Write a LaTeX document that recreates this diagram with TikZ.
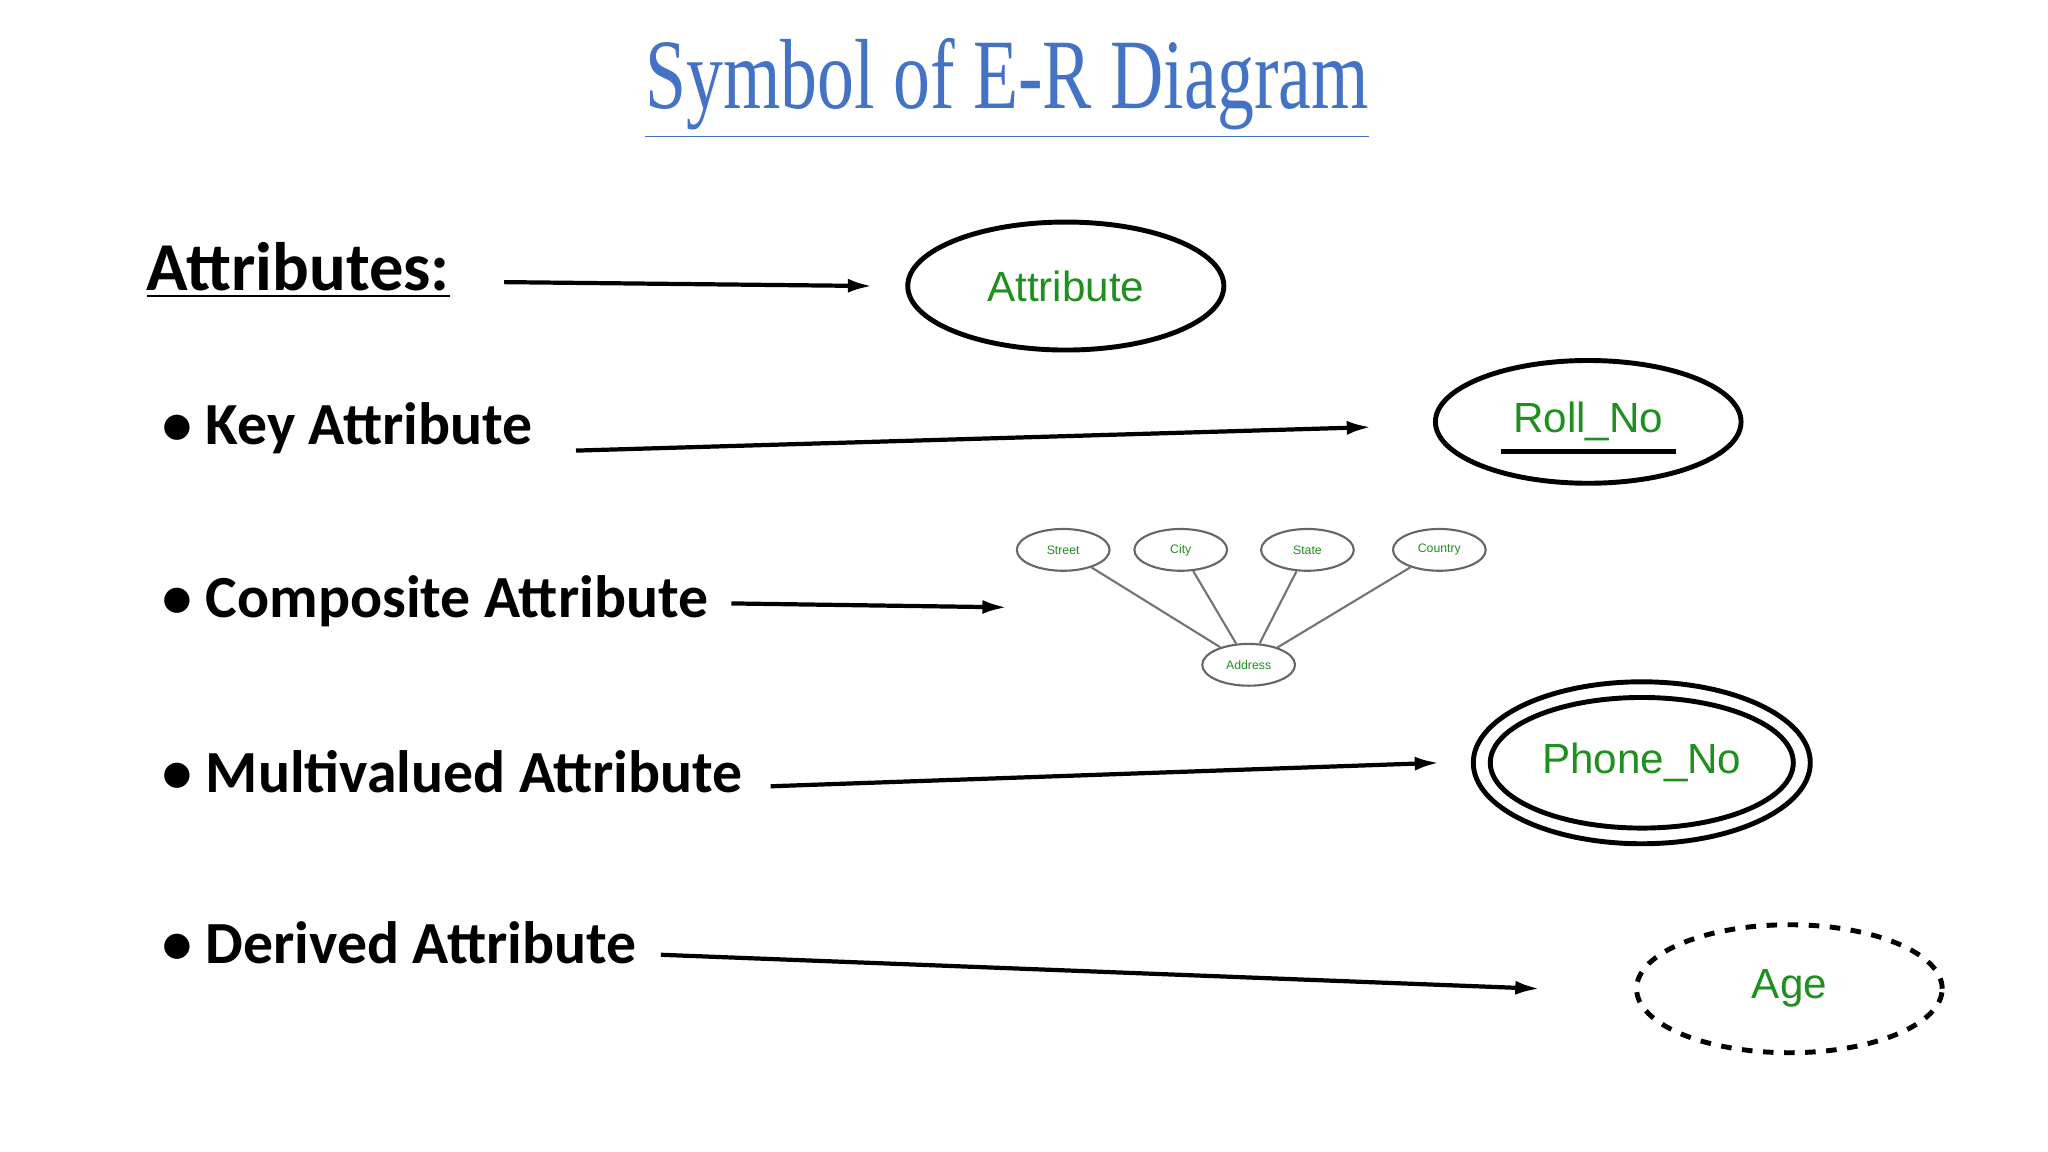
\documentclass[tikz,border=0pt]{standalone}
\usepackage{fontspec}
\setmainfont{Carlito}
\newfontfamily\arial{Liberation Sans}
\newfontfamily\titlefont{Liberation Serif}
\usetikzlibrary{arrows.meta,shapes.geometric}
\definecolor{ttl}{HTML}{4472C4}
\definecolor{grn}{HTML}{1F8F1F}
\tikzset{
 arr/.style={-{Latex[length=7pt,width=4pt]},line width=1.2pt},
 ell/.style={draw,ellipse,inner sep=0pt,line width=1.4pt,text=grn,font=\arial\fontsize{12}{12}\selectfont},
 sml/.style={draw=black!60,ellipse,line width=0.6pt,minimum width=71\u,minimum height=32\u,inner sep=0pt,text=grn,font=\arial\fontsize{3.5}{3.5}\selectfont},
 lbl/.style={anchor=west,font=\bfseries\fontsize{17}{17}\selectfont},
 cl/.style={draw=black!55,line width=0.6pt}
}
\def\u{*0.01306cm}
\begin{document}
\begin{tikzpicture}[x=0.01306cm,y=-0.01306cm]
\useasboundingbox (0,0) rectangle (1568,882);
\node[text=ttl,font=\titlefont\fontsize{21}{21}\selectfont] (title) at (771,68) {\scalebox{1}[1.35]{\underline{Symbol of E-R Diagram}}};
\node[lbl,font=\bfseries\fontsize{19.5}{19.5}\selectfont] (attrs) at (103,207) {\underline{Attributes:}};
\node[lbl] (key) at (115,328) {\textbullet\ Key Attribute};
\node[lbl] (comp) at (115,460) {\textbullet\ Composite Attribute};
\node[lbl] (multi) at (115,591) {\textbullet\ Multivalued Attribute};
\node[lbl] (der) at (115,722) {\textbullet\ Derived Attribute};
\coordinate (a1s) at (386,216); \coordinate (a1e) at (668,219);
\coordinate (a2s) at (441,345); \coordinate (a2e) at (1050,327);
\coordinate (a3s) at (560,462); \coordinate (a3e) at (771,465);
\coordinate (a4s) at (590,602); \coordinate (a4e) at (1102,584);
\coordinate (a5s) at (506,731); \coordinate (a5e) at (1179,757);
\draw[arr] (a1s) -- (a1e);
\draw[arr] (a2s) -- (a2e);
\draw[arr] (a3s) -- (a3e);
\draw[arr] (a4s) -- (a4e);
\draw[arr] (a5s) -- (a5e);
\node[ell,minimum width=242\u,minimum height=98\u] (attr) at (816,219) {Attribute};
\node[ell,minimum width=234\u,minimum height=94\u] (roll) at (1216,323) {Roll\_No};
\draw[line width=1.4pt] (1149,346) -- (1283,346);
\node[ell,minimum width=232\u,minimum height=100\u] (phi) at (1257,584) {Phone\_No};
\draw[line width=1.4pt] (phi.center) ellipse [x radius=129, y radius=62];
\node[ell,dashed,minimum width=234\u,minimum height=98\u] (age) at (1370,757) {Age};
\node[sml] (street) at (814,421) {Street};
\node[sml] (city) at (904,421) {City};
\node[sml] (state) at (1001,421) {State};
\node[sml] (country) at (1102,421) {Country};
\node[sml] (addr) at (956,509) {Address};
\draw[cl] (street) -- (addr);
\draw[cl] (city) -- (addr);
\draw[cl] (state) -- (addr);
\draw[cl] (country) -- (addr);
\end{tikzpicture}
\end{document}
